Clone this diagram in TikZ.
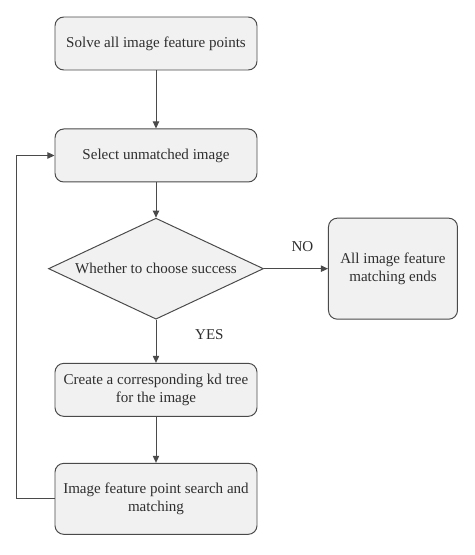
\documentclass[tikz,border=0pt]{standalone}
\usepackage{fontspec}
\setmainfont{Liberation Serif}
\usepackage{xcolor}
\definecolor{colLine}{HTML}{4A4A4A}
\definecolor{colFill}{HTML}{F1F1F1}
\definecolor{colText}{HTML}{2E2E2E}
\usetikzlibrary{arrows.meta, positioning, shapes.geometric}
\tikzset{
  stepbox/.style={rectangle, rounded corners=0.22cm, draw=colLine, fill=colFill,
    line width=0.7pt, minimum width=5.05cm, minimum height=1.325cm,
    align=center, text=colText, inner sep=2pt},
  choice/.style={diamond, aspect=2.13, draw=colLine, fill=colFill, line width=0.7pt,
    minimum width=5.375cm, minimum height=2.525cm, inner sep=0pt,
    text=colText},
  arr/.style={-{Triangle[length=5pt,width=4.5pt]}, colLine, line width=0.7pt},
}

\begin{document}
\begin{tikzpicture}[font=\fontsize{10.7}{12.8}\selectfont]
        \useasboundingbox (0,0) rectangle (11.85,-13.875);
        % Main column
        \node[stepbox] (solve) at (3.9,-1.0875) {Solve all image feature points};
        \node[stepbox, below=1.45cm of solve] (select) {Select unmatched image};
        \node[choice, below=0.88cm of select] (check) {Whether to choose success};
        \node[stepbox, below=1.08cm of check] (kdtree) {Create a corresponding kd tree\\for the image};
        \node[stepbox, minimum height=1.775cm, below=1.15cm of kdtree] (search)
              {Image feature point search and\\matching};
        % End
        \node[stepbox, minimum width=3.225cm, minimum height=2.525cm,
              right=1.6cm of check] (done) {All image feature\\matching ends};
        % Arrows
        \draw[arr] (solve) -- (select);
        \draw[arr] (select) -- (check);
        \draw[arr] (check) -- (kdtree)
              node[pos=0.35, right=0.85cm, text=colText] {YES};
        \draw[arr] (check) -- (done)
              node[pos=0.6, above=0.3cm, text=colText] {NO};
        \draw[arr] (kdtree) -- (search);
        \draw[arr] (search.west) -- ++(-0.95,0) |- (select.west);
    \end{tikzpicture}
\end{document}
